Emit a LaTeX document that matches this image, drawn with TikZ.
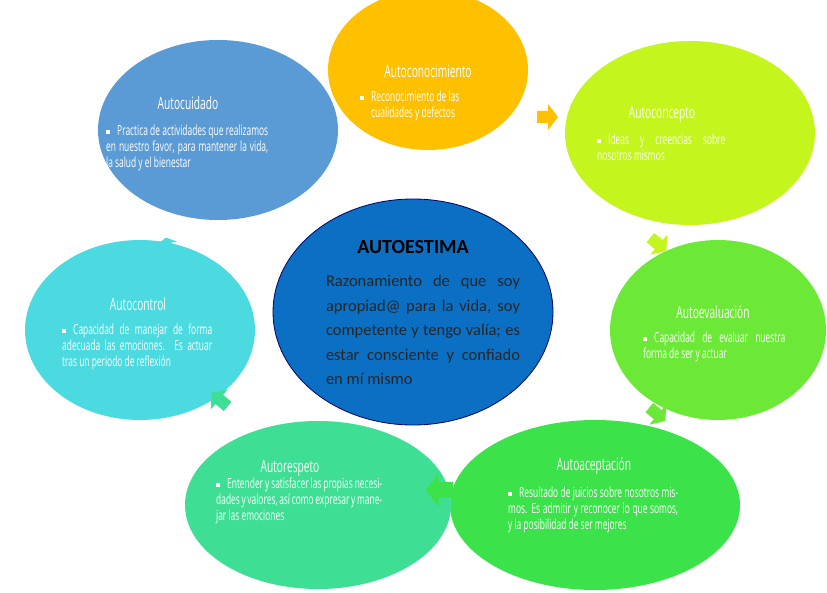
\documentclass[tikz,border=0pt]{standalone}
\usepackage{fontspec}
\setmainfont{Open Sans}[FakeStretch=0.6]
\newfontfamily\calfont{Carlito}
\newcommand{\bul}{\makebox[11pt][l]{\rule[2pt]{4pt}{4pt}}}
\definecolor{cBlue}{HTML}{5B9BD5}
\definecolor{cOrange}{HTML}{FFC000}
\definecolor{cLime}{HTML}{C4F51C}
\definecolor{cGreen}{HTML}{6CE936}
\definecolor{cGreenB}{HTML}{3BE24A}
\definecolor{cMint}{HTML}{3EDF94}
\definecolor{cCyan}{HTML}{4ADAE0}
\definecolor{cCenter}{HTML}{0B6FC3}
\tikzset{
 ttl/.style={text=white, font=\fontsize{17}{19}\selectfont, anchor=center},
 body/.style={text=white, font=\fontsize{14}{16}\selectfont, align=justify, anchor=north west, inner sep=0pt},
 arrowpic/.pic={\fill (-10,-6)--(1,-6)--(1,-13)--(11,0)--(1,13)--(1,6)--(-10,6)--cycle;}
}
\begin{document}
\begin{tikzpicture}[x=1pt,y=-1pt]
\useasboundingbox (0,0) rectangle (827,593);
% ellipses
\fill[cBlue] (218,130) ellipse [x radius=120, y radius=90];
\fill[cOrange] (428,70) ellipse [x radius=100, y radius=80];
\fill[cLime] (690,133) ellipse [x radius=125, y radius=92];
\fill[cGreen] (718,330) ellipse [x radius=108, y radius=90];
\fill[cGreenB] (595,505) ellipse [x radius=145, y radius=85];
\fill[cMint] (318,505) ellipse [x radius=133, y radius=84];
\fill[cCyan] (140,330) ellipse [x radius=115, y radius=90];
\fill[cCenter, draw=blue!40!black, line width=0.8pt] (413,312) ellipse [x radius=140, y radius=113];
% titles
\node[ttl] (t1) at (188,103) {Autocuidado};
\node[ttl] (t2) at (428,71) {Autoconocimiento};
\node[ttl] (t3) at (662,114) {Autoconcepto};
\node[ttl] (t4) at (713,312) {Autoevaluación};
\node[ttl] (t5) at (594,466) {Autoaceptación};
\node[ttl] (t6) at (290,468) {Autorespeto};
\node[ttl] (t7) at (138,304) {Autocontrol};
% bodies
\node[body, text width=162pt] (b1) at (106,125) {\bul Practica de actividades que realizamos en nuestro favor, para mantener la vida, la salud y el bienestar};
\node[body, text width=140pt] (b2) at (360,91) {\bul Reconocimiento de las\\\hspace*{11pt}cualidades y defectos};
\node[body, text width=128pt] (b3) at (597,134) {\bul Ideas y creencias sobre nosotros mismos};
\node[body, text width=142pt] (b4) at (643,332) {\bul Capacidad de evaluar nuestra forma de ser y actuar};
\node[body, text width=170pt] (b5) at (508,487) {\bul Resultado de juicios sobre nosotros mismos. Es admitir y reconocer lo que somos, y la posibilidad de ser mejores};
\node[body, text width=166pt] (b6) at (216,478) {\bul Entender y satisfacer las propias necesidades y valores, así como expresar y manejar las emociones};
\node[body, text width=150pt] (b7) at (62,324) {\bul Capacidad de manejar de forma adecuada las emociones. Es actuar tras un periodo de reflexión};
% center
\node[font=\calfont\bfseries\fontsize{20}{22}\selectfont, text=black] (ce) at (413,247) {AUTOESTIMA};
\node[font=\calfont\fontsize{16.5}{24.5}\selectfont, text=black!85, text width=194pt, align=justify, anchor=north] (cb) at (423,272) {Razonamiento de que soy apropiad@ para la vida, soy competente y tengo valía; es estar consciente y confiado en mí mismo};
% arrows
\pic[cBlue] at (315,114) {arrowpic};
\pic[cOrange] at (547,117) {arrowpic};
\pic[cLime, rotate=-40] at (658,244) {arrowpic};
\pic[cGreen, rotate=-40] at (657,414) {arrowpic};
\pic[cGreenB, rotate=180, scale=1.3] at (440,490) {arrowpic};
\pic[cMint, rotate=140] at (220,400) {arrowpic};
\pic[cCyan, rotate=100, yscale=0.8, xscale=0.6] at (167,244) {arrowpic};
\end{tikzpicture}
\end{document}
